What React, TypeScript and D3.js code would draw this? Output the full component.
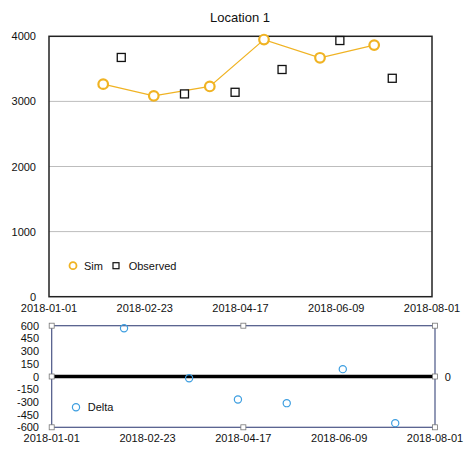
import React from "react";
import * as d3 from "d3";

const simDates = ["2018-01-31", "2018-02-28", "2018-03-31", "2018-04-30", "2018-05-31", "2018-06-30"];
const simValues = [3265, 3085, 3230, 3950, 3670, 3865];
const obsDates = ["2018-02-10", "2018-03-17", "2018-04-14", "2018-05-10", "2018-06-11", "2018-07-10"];
const obsValues = [3675, 3115, 3140, 3490, 3935, 3355];
const deltaDates = ["2018-02-10", "2018-03-18", "2018-04-14", "2018-05-11", "2018-06-11", "2018-07-10"];
const deltaValues = [570, -20, -272, -315, 87, -551];
const xTickLabels = ["2018-01-01", "2018-02-23", "2018-04-17", "2018-06-09", "2018-08-01"];
const yTicks = [0, 1000, 2000, 3000, 4000];
const dTicks = [600, 450, 300, 150, 0, -150, -300, -450, -600];

const parse = (s: string) => new Date(s + "T00:00:00Z");
const FONT = "'Liberation Sans', Arial, Helvetica, sans-serif";
const ORANGE = "#f0b323";
const BLUE = "#3d9ee0";

export default function App() {
  const x = d3.scaleUtc().domain([parse("2018-01-01"), parse("2018-08-01")]).range([49, 432]);
  const y = d3.scaleLinear().domain([0, 4000]).range([296.7, 36.3]);
  const x2 = d3.scaleUtc().domain([parse("2018-01-01"), parse("2018-08-01")]).range([51.7, 435]);
  const y2 = d3.scaleLinear().domain([-600, 600]).range([427.3, 325.7]);

  const simPts = simDates.map((d, i) => [x(parse(d)), y(simValues[i])] as [number, number]);
  const line = d3.line()(simPts) || "";

  const handles: [number, number][] = [];
  const xm = (x2.range()[0] + x2.range()[1]) / 2;
  [[x2.range()[0], y2(600)], [xm, y2(600)], [x2.range()[1], y2(600)], [x2.range()[0], y2(0)], [x2.range()[1], y2(0)], [x2.range()[0], y2(-600)], [xm, y2(-600)], [x2.range()[1], y2(-600)]].forEach((p) => handles.push(p as [number, number]));

  return (
    <svg width={474} height={453} style={{ position: "absolute", left: 0, top: 0 }} fontFamily={FONT}>
      <rect width={474} height={453} fill="#fff" />
      <text x={240} y={17.3} fontSize={13} textAnchor="middle" dominantBaseline="central" fill="#111">Location 1</text>
      {/* gridlines */}
      {yTicks.filter((t) => t > 0 && t < 4000).map((t) => (
        <line key={t} x1={49} x2={432} y1={y(t)} y2={y(t)} stroke="#bdbdbd" strokeWidth={1} />
      ))}
      <rect x={49} y={y(4000)} width={383} height={y(0) - y(4000)} fill="none" stroke="#222" strokeWidth={1.5} />
      {yTicks.map((t) => (
        <text key={t} x={t === 0 ? 36 : 36} y={y(t)} fontSize={11} textAnchor="end" dominantBaseline="central" fill="#111">{t}</text>
      ))}
      {xTickLabels.map((l) => (
        <text key={l} x={x(parse(l))} y={307.7} fontSize={11} textAnchor="middle" dominantBaseline="central" fill="#111">{l}</text>
      ))}
      <path d={line} fill="none" stroke={ORANGE} strokeWidth={1.2} />
      {simPts.map((p, i) => (
        <circle key={i} cx={p[0]} cy={p[1]} r={4.8} fill="#fff" stroke={ORANGE} strokeWidth={2.2} />
      ))}
      {obsDates.map((d, i) => (
        <rect key={i} x={x(parse(d)) - 4} y={y(obsValues[i]) - 4} width={8} height={8} fill="#fff" stroke="#111" strokeWidth={1.3} />
      ))}
      {/* legend */}
      <circle cx={73} cy={265.7} r={3.5} fill="#fff" stroke={ORANGE} strokeWidth={1.8} />
      <text x={84} y={265.7} fontSize={11} dominantBaseline="central" fill="#111">Sim</text>
      <rect x={113} y={262.7} width={6} height={6} fill="#fff" stroke="#111" strokeWidth={1.2} />
      <text x={128.7} y={265.7} fontSize={11} dominantBaseline="central" fill="#111">Observed</text>

      {/* delta chart */}
      <rect x={x2.range()[0]} y={y2(600)} width={x2.range()[1] - x2.range()[0]} height={y2(-600) - y2(600)} fill="none" stroke="#4a5585" strokeWidth={1.2} />
      <line x1={x2.range()[0]} x2={x2.range()[1]} y1={y2(0)} y2={y2(0)} stroke="#000" strokeWidth={3.5} />
      {dTicks.map((t) => (
        <text key={t} x={39} y={y2(t)} fontSize={11} textAnchor="end" dominantBaseline="central" fill="#111">{t}</text>
      ))}
      <text x={447.7} y={y2(0)} fontSize={11} textAnchor="middle" dominantBaseline="central" fill="#111">0</text>
      {xTickLabels.map((l) => (
        <text key={l} x={x2(parse(l))} y={438} fontSize={11} textAnchor="middle" dominantBaseline="central" fill="#111">{l}</text>
      ))}
      {handles.map((p, i) => (
        <rect key={i} x={p[0] - 2.5} y={p[1] - 2.5} width={5} height={5} fill="#fff" stroke="#777" strokeWidth={0.8} />
      ))}
      {deltaDates.map((d, i) => (
        <circle key={i} cx={x2(parse(d))} cy={y2(deltaValues[i])} r={3.6} fill="none" stroke={BLUE} strokeWidth={1.2} />
      ))}
      <circle cx={76} cy={407.3} r={3.6} fill="none" stroke={BLUE} strokeWidth={1.2} />
      <text x={87.7} y={407.3} fontSize={11} dominantBaseline="central" fill="#111">Delta</text>
    </svg>
  );
}
